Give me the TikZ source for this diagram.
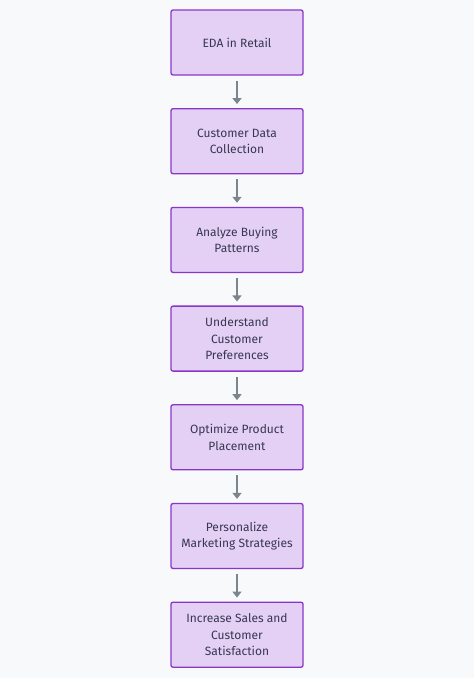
\documentclass[tikz,border=0pt]{standalone}
\usepackage{fontspec}
\setmainfont{Fira Sans}
\usetikzlibrary{positioning,arrows.meta}
\definecolor{stepfill}{RGB}{228,208,245}
\definecolor{stepline}{RGB}{137,54,200}
\definecolor{steptext}{RGB}{55,55,80}
\definecolor{arrowgray}{RGB}{122,133,142}
\definecolor{bggray}{RGB}{248,249,250}

\begin{document}
\begin{tikzpicture}[
	stepbox/.style={draw=stepline,fill=stepfill,line width=1.3pt,rounded corners=2pt,
		minimum width=132pt,minimum height=65pt,align=center,
		text=steptext,font=\fontsize{12pt}{16.5pt}\selectfont},
	flow/.style={draw=arrowgray,line width=2.2pt,shorten <=5pt,shorten >=4pt,
		-{Triangle[length=6pt,width=9pt]}},
	node distance=32.4pt]
	% Background
	\fill[bggray] (0,0) rectangle (474pt,-678pt);
	\useasboundingbox (0,0) rectangle (474pt,-678pt);
	% Steps
	\node[stepbox] (eda) at (237pt,-42.5pt) {EDA in Retail};
	\node[stepbox,below=of eda] (collect) {Customer Data\\Collection};
	\node[stepbox,below=of collect] (patterns) {Analyze Buying\\Patterns};
	\node[stepbox,below=of patterns] (prefs) {Understand\\Customer\\Preferences};
	\node[stepbox,below=of prefs] (placement) {Optimize Product\\Placement};
	\node[stepbox,below=of placement] (marketing) {Personalize\\Marketing Strategies};
	\node[stepbox,below=of marketing] (sales) {Increase Sales and\\Customer\\Satisfaction};
	% Arrows
	\foreach \a/\b in {eda/collect,collect/patterns,patterns/prefs,prefs/placement,placement/marketing,marketing/sales}
		\draw[flow] (\a) -- (\b);
\end{tikzpicture}
\end{document}
